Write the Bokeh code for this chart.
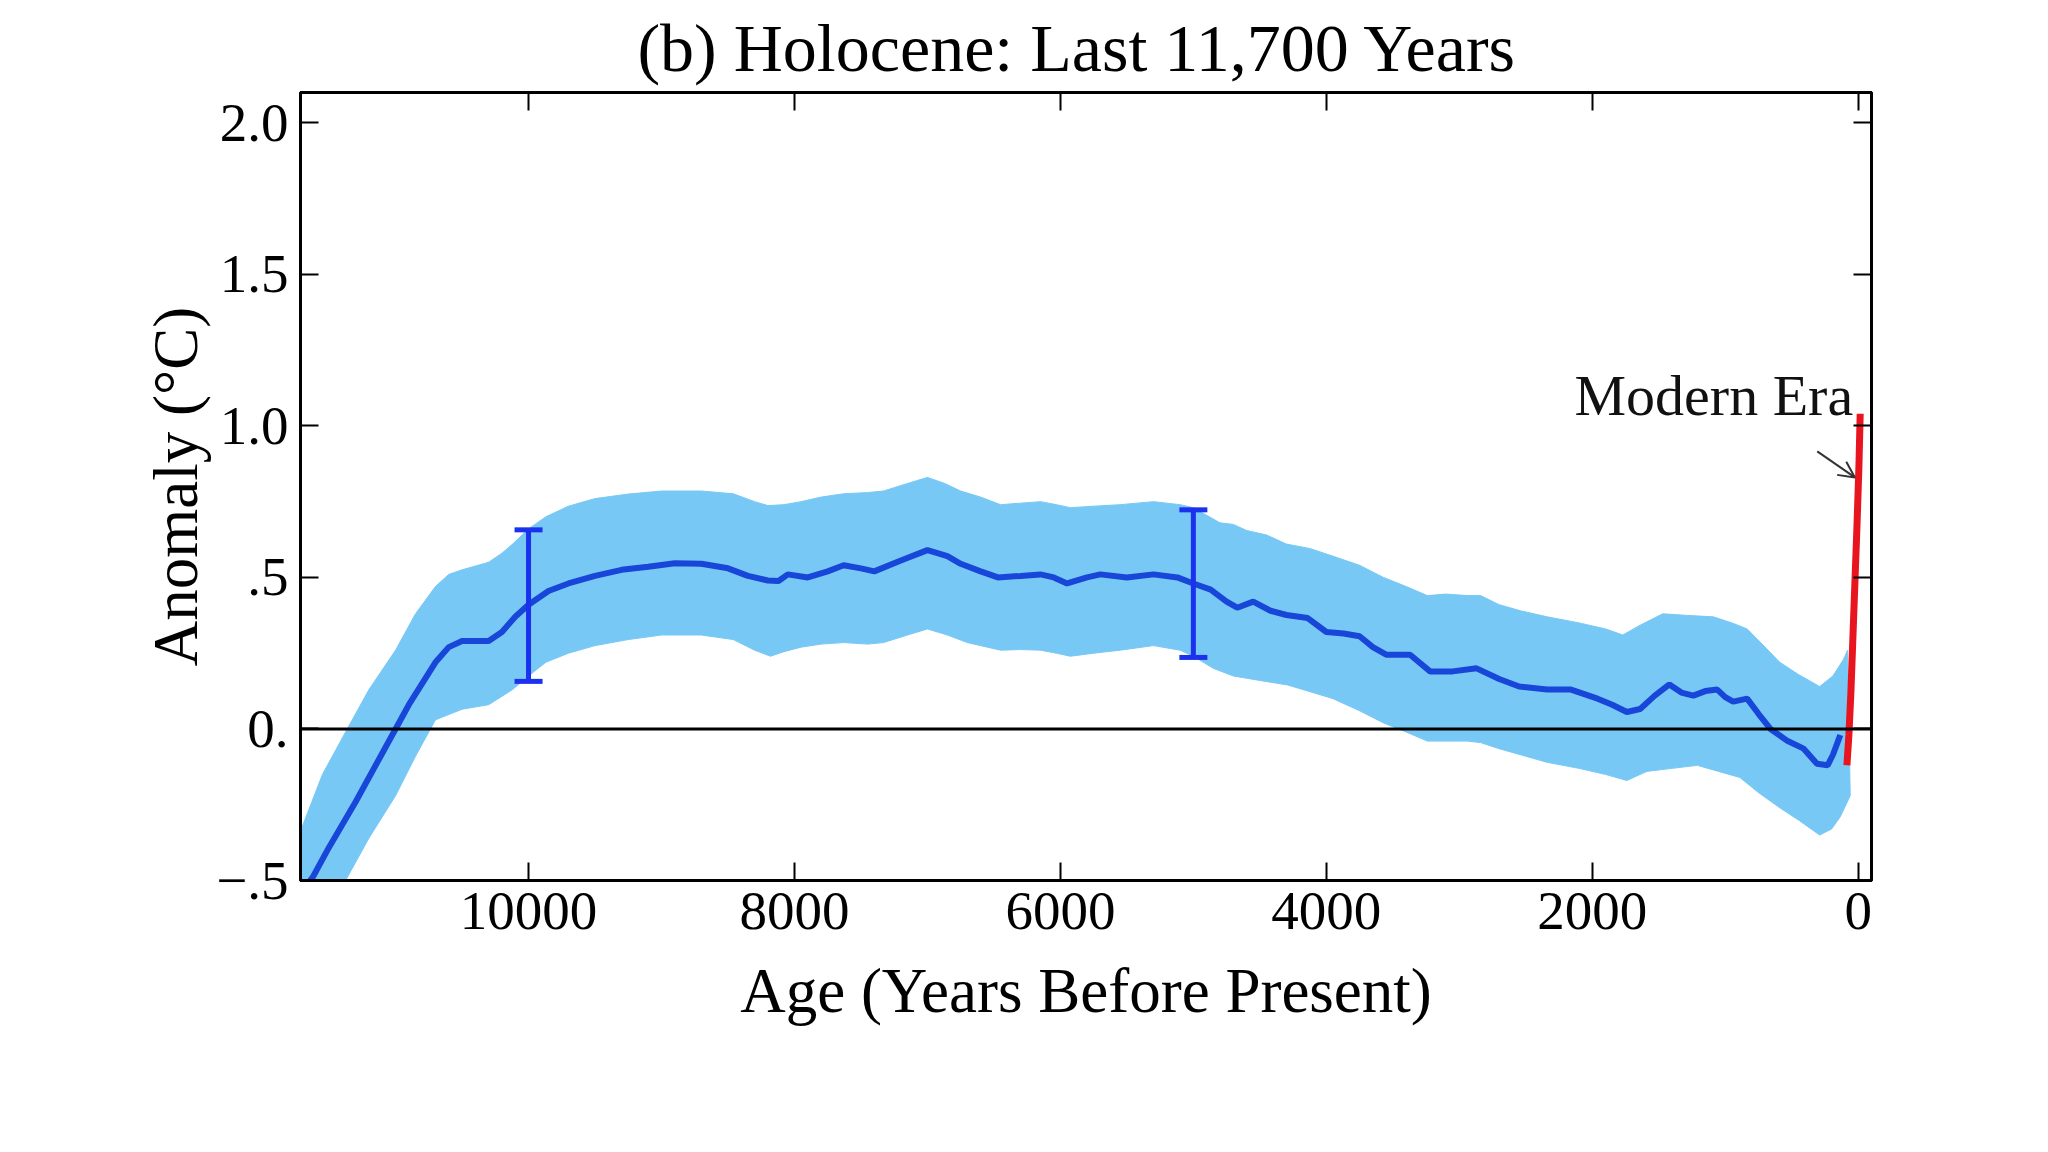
from bokeh.plotting import figure
from bokeh.models import (Range1d, FixedTicker, LinearAxis, Span, Arrow, OpenHead,
                          Label, Whisker, TeeHead, ColumnDataSource)
from bokeh.embed import file_html
from bokeh.resources import INLINE

FONT = "Liberation Serif"

# ---------------- data ----------------
mean_age = [11750, 11624, 11500, 11300, 11100, 11000, 10900, 10700, 10600, 10500, 10300, 10200,
            10100, 10000, 9850, 9700, 9500, 9300, 9100, 8900, 8700, 8500, 8350, 8200, 8120, 8050,
            7900, 7750, 7630, 7500, 7400, 7200, 7000, 6850, 6750, 6600, 6470, 6300, 6150, 6050,
            5950, 5800, 5700, 5500, 5300, 5120, 5000, 4870, 4750, 4670, 4550, 4420, 4300, 4140,
            4000, 3870, 3750, 3650, 3550, 3370, 3220, 3050, 2870, 2700, 2550, 2340, 2160, 1960,
            1850, 1740, 1640, 1530, 1420, 1330, 1240, 1150, 1060, 1000, 940, 835, 750, 660, 530,
            410, 310, 230, 190, 160, 135]
mean_anom = [-0.56, -0.49, -0.39, -0.24, -0.08, 0.0, 0.08, 0.22, 0.27, 0.29, 0.29, 0.32,
             0.37, 0.41, 0.455, 0.48, 0.505, 0.525, 0.535, 0.547, 0.545, 0.53, 0.505, 0.49, 0.488, 0.51,
             0.50, 0.52, 0.54, 0.53, 0.52, 0.556, 0.59, 0.57, 0.545, 0.52, 0.50, 0.505, 0.51, 0.50,
             0.48, 0.50, 0.51, 0.50, 0.51, 0.50, 0.48, 0.46, 0.42, 0.40, 0.42, 0.39, 0.376, 0.366,
             0.32, 0.315, 0.306, 0.27, 0.245, 0.245, 0.19, 0.19, 0.20, 0.165, 0.14, 0.13, 0.13, 0.10,
             0.08, 0.056, 0.066, 0.11, 0.147, 0.12, 0.11, 0.125, 0.13, 0.105, 0.09, 0.10, 0.05, 0.0, -0.04,
             -0.065, -0.115, -0.12, -0.085, -0.05, -0.02]

upper_age = [11750, 11700, 11550, 11376, 11200, 11000, 10850, 10700, 10600, 10500, 10300, 10200,
             10120, 10000, 9870, 9700, 9500, 9250, 9000, 8700, 8460, 8300, 8200, 8080, 7950, 7800,
             7630, 7450, 7330, 7150, 7000, 6870, 6750, 6600, 6450, 6300, 6150, 6030, 5925, 5750,
             5550, 5300, 5100, 5000, 4900, 4800, 4700, 4600, 4450, 4300, 4120, 3950, 3750, 3570,
             3400, 3240, 3100, 2940, 2840, 2700, 2540, 2340, 2100, 1900, 1770, 1650, 1470, 1300,
             1090, 950, 835, 700, 590, 450, 290, 190, 110, 80]
upper_anom = [-0.38, -0.32, -0.15, -0.01, 0.13, 0.26, 0.38, 0.47, 0.51, 0.525, 0.55, 0.58,
              0.61, 0.66, 0.70, 0.735, 0.76, 0.775, 0.785, 0.785, 0.776, 0.75, 0.737, 0.74, 0.75, 0.765,
              0.776, 0.78, 0.785, 0.81, 0.83, 0.81, 0.785, 0.765, 0.74, 0.745, 0.75, 0.74, 0.73, 0.735,
              0.74, 0.75, 0.74, 0.73, 0.705, 0.68, 0.675, 0.655, 0.64, 0.61, 0.595, 0.57, 0.54, 0.50,
              0.47, 0.44, 0.445, 0.44, 0.44, 0.41, 0.39, 0.37, 0.35, 0.33, 0.31, 0.34, 0.38, 0.375,
              0.37, 0.35, 0.33, 0.27, 0.22, 0.18, 0.14, 0.175, 0.23, 0.26]

lower_age = [11750, 11376, 11200, 11000, 10850, 10700, 10500, 10300, 10120, 10000, 9870, 9700,
             9500, 9250, 9000, 8700, 8460, 8300, 8180, 8080, 7950, 7800, 7630, 7450, 7330, 7150,
             7000, 6850, 6700, 6450, 6300, 6150, 6030, 5925, 5750, 5550, 5300, 5100, 5000, 4850,
             4700, 4500, 4290, 4100, 3950, 3750, 3570, 3400, 3240, 3100, 2940, 2840, 2700, 2540,
             2340, 2100, 1900, 1740, 1590, 1400, 1210, 1050, 890, 750, 590, 450, 290, 200, 135, 60]
lower_anom = [-0.75, -0.5, -0.36, -0.22, -0.09, 0.03, 0.065, 0.08, 0.13, 0.175, 0.22, 0.25,
              0.275, 0.295, 0.31, 0.31, 0.295, 0.26, 0.24, 0.255, 0.27, 0.28, 0.285, 0.28, 0.285, 0.31,
              0.33, 0.31, 0.285, 0.26, 0.262, 0.26, 0.25, 0.24, 0.25, 0.26, 0.275, 0.26, 0.24, 0.20,
              0.175, 0.16, 0.145, 0.12, 0.10, 0.06, 0.02, -0.01, -0.04, -0.04, -0.04, -0.045, -0.065, -0.085,
              -0.11, -0.13, -0.15, -0.17, -0.14, -0.13, -0.12, -0.14, -0.16, -0.21, -0.26, -0.30, -0.35,
              -0.33, -0.29, -0.22]

errbar_age = [10000, 5000]
errbar_low = [0.157, 0.236]
errbar_high = [0.657, 0.723]

modern_age = [85, 70, 55, 40, 25, 10, -5, -15]
modern_anom = [-0.12, -0.02, 0.12, 0.30, 0.48, 0.66, 0.86, 1.04]

x_ticks = [10000, 8000, 6000, 4000, 2000, 0]
y_ticks = [-0.5, 0.0, 0.5, 1.0, 1.5, 2.0]
y_tick_labels = ["\u2212.5", "0.", ".5", "1.0", "1.5", "2.0"]

title_text = "(b)  Holocene: Last 11,700 Years"
x_label = "Age (Years Before Present)"
y_label = "Anomaly (\u00b0C)"
annot_text = "Modern Era"

# ---------------- figure ----------------
p = figure(width=2048, height=1152, output_backend="svg", toolbar_location=None,
           x_range=Range1d(11715, -100), y_range=Range1d(-0.5, 2.1),
           min_border_left=300, min_border_right=177, min_border_top=92, min_border_bottom=272,
           background_fill_color="white", border_fill_color="white")
p.grid.visible = False
p.outline_line_color = "black"
p.outline_line_width = 3

p.title.text = title_text
p.title.align = "center"
p.title.text_font = FONT
p.title.text_font_size = "68px"
p.title.text_font_style = "normal"
p.title.text_color = "black"
p.title.standoff = 14

# uncertainty band
band_x = list(upper_age) + list(reversed(lower_age))
band_y = list(upper_anom) + list(reversed(lower_anom))
p.patch(band_x, band_y, fill_color="#78c8f6", line_color="#78c8f6", line_width=1)

# zero line
p.add_layout(Span(location=0, dimension="width", line_color="black", line_width=3))

# mean line
p.line(mean_age, mean_anom, line_color="#1846d8", line_width=6)

# error bars
eb = ColumnDataSource(dict(age=errbar_age, low=errbar_low, high=errbar_high))
p.add_layout(Whisker(source=eb, base="age", lower="low", upper="high", dimension="height",
                     line_color="#1a32ee", line_width=5, level="overlay",
                     upper_head=TeeHead(size=28, line_color="#1a32ee", line_width=5),
                     lower_head=TeeHead(size=28, line_color="#1a32ee", line_width=5)))

# modern era
p.line(modern_age, modern_anom, line_color="#e8141e", line_width=7)
p.add_layout(Arrow(x_start=308, y_start=0.916, x_end=25, y_end=0.83,
                   line_color="#333333", line_width=2,
                   end=OpenHead(size=16, line_color="#333333", line_width=2)))
p.add_layout(Label(x=38, y=1.10, text=annot_text, text_align="right",
                   text_baseline="alphabetic", text_font=FONT, text_font_size="58px",
                   text_color="#111111"))

# axes
def style_axis(ax, ticks, show_labels):
    ax.ticker = FixedTicker(ticks=ticks)
    ax.axis_line_color = "black"
    ax.axis_line_width = 3
    ax.major_tick_in = 18
    ax.major_tick_out = 0
    ax.major_tick_line_width = 2
    ax.major_tick_line_color = "black"
    ax.minor_tick_line_color = None
    ax.major_label_text_font = FONT
    ax.major_label_text_color = "black"
    ax.major_label_text_font_size = "55px"
    if not show_labels:
        ax.major_label_overrides = {float(t): "" for t in ticks}
        ax.major_label_standoff = 0

xa = p.xaxis[0]
style_axis(xa, x_ticks, True)
xa.major_label_standoff = 12
xa.axis_label = x_label
xa.axis_label_text_font = FONT
xa.axis_label_text_font_size = "63px"
xa.axis_label_text_font_style = "normal"
xa.axis_label_text_color = "black"
xa.axis_label_standoff = 24

ya = p.yaxis[0]
style_axis(ya, y_ticks, True)
ya.major_label_overrides = {float(t): s for t, s in zip(y_ticks, y_tick_labels)}
ya.major_label_standoff = 12
ya.axis_label = y_label
ya.axis_label_text_font = FONT
ya.axis_label_text_font_size = "63px"
ya.axis_label_text_font_style = "normal"
ya.axis_label_text_color = "black"
ya.axis_label_standoff = 2

top = LinearAxis()
style_axis(top, x_ticks, False)
p.add_layout(top, "above")
right = LinearAxis()
style_axis(right, y_ticks, False)
p.add_layout(right, "right")

open("out.html", "w").write(file_html(p, INLINE))
